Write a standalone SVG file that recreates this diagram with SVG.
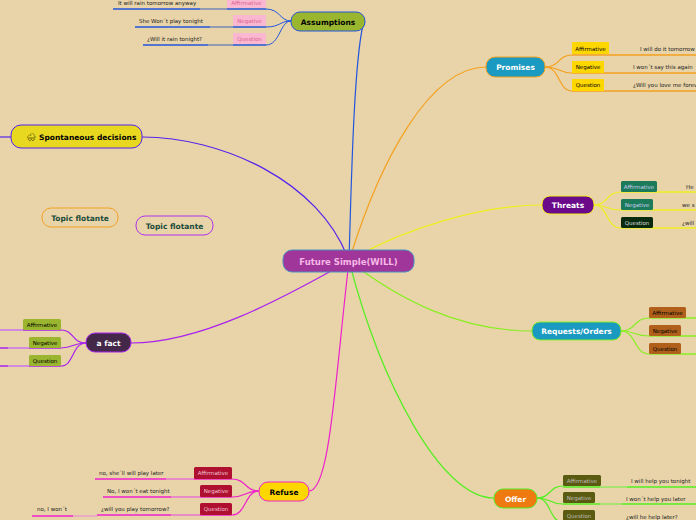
<svg xmlns="http://www.w3.org/2000/svg" width="696" height="520" viewBox="0 0 696 520">
<style>
text{font-family:"DejaVu Sans","Liberation Sans",sans-serif;font-size:6px}
.n{font-size:7.5px;font-weight:bold;text-anchor:middle}
.s{font-size:5.5px;text-anchor:middle}
.e{font-size:5.5px;fill:#222}
path{fill:none}
</style>
<rect width="696" height="520" fill="#e8d4a8"/>
<g id="connectors" stroke-width="1.2">
<path d="M349 261 C352 150 355 60 363 25" stroke="#2255dd"/>
<path d="M349 261 C320 180 220 137 142 137" stroke="#5522ee"/>
<path d="M349 261 C380 160 430 67 486 67" stroke="#f5a020"/>
<path d="M349 261 C400 230 480 205 542 205" stroke="#f0f020"/>
<path d="M349 261 C400 300 460 331 532 331" stroke="#88ee22"/>
<path d="M349 261 C380 380 440 498 494 498" stroke="#55ee22"/>
<path d="M349 261 C335 380 330 491 309 491" stroke="#ee22cc"/>
<path d="M349 261 C280 300 200 343 131 343" stroke="#aa22ee"/>
<path d="M0 137 H11" stroke="#5522ee"/>
<g stroke="#2255dd" stroke-width="1"><path d="M291 21 C280 21 280 9 266 9"/><path d="M291 21 C280 21 280 27 266 27"/><path d="M291 21 C280 21 280 45 266 45"/></g>
<g stroke-width="1.5"><path d="M113 9 H266" stroke="#2255dd"/><path d="M200 9 H227" stroke="#aaa"/><path d="M135 27 H266" stroke="#2255dd"/><path d="M210 27 H233" stroke="#aaa"/><path d="M143 45 H266" stroke="#2255dd"/><path d="M208 45 H233" stroke="#aaa"/></g>
<g stroke="#f5a020"><path d="M545 67 C560 67 558 55 572 55"/><path d="M545 67 C560 67 558 73 572 73"/><path d="M545 67 C560 67 558 91 572 91"/><path d="M572 55 H696 M572 73 H696 M572 91 H696" stroke-width="1.5"/></g>
<g stroke="#f0f020"><path d="M594 205 C608 205 606 192 621 192"/><path d="M594 205 C608 205 606 210 621 210"/><path d="M594 205 C608 205 606 228 621 228"/><path d="M621 192 H696 M621 210 H696 M621 228 H696" stroke-width="1.5"/></g>
<g stroke="#88ee22"><path d="M621 331 C636 331 634 318 649 318"/><path d="M621 331 C636 331 634 336 649 336"/><path d="M621 331 C636 331 634 354 649 354"/><path d="M649 318 H696 M649 336 H696 M649 354 H696" stroke-width="1.5"/></g>
<g stroke="#55ee22"><path d="M537 498 C551 498 549 486 563 486"/><path d="M537 498 C551 498 549 504 563 504"/><path d="M537 498 C551 498 549 522 563 522"/><path d="M563 487 H696 M563 504 H696" stroke-width="1.5"/><path d="M600 487 H627 M600 504 H622" stroke="#b8e080" stroke-width="1.5"/></g>
<g stroke="#ee22cc"><path d="M259 491 C245 491 246 479 232 479"/><path d="M259 491 C245 491 246 497 232 497"/><path d="M259 491 C245 491 246 515 232 515"/><path d="M95 479 H232 M103 497 H232 M97 515 H232 M32 516 H73" stroke-width="1.5"/><path d="M166 479 H194 M171 497 H200 M171 515 H200 M73 516 H97" stroke="#e8a0c8" stroke-width="1.5"/></g>
<g stroke="#aa22ee"><path d="M86 343 C72 343 74 330 61 330"/><path d="M86 343 C72 343 74 348 61 348"/><path d="M86 343 C72 343 74 366 61 366"/><path d="M0 330 H61 M0 348 H61 M0 366 H61" stroke-width="1.5"/><path d="M0 330 H23 M8 348 H29 M8 366 H29" stroke="#d8a0e0" stroke-width="1.5"/></g>
</g>
<g id="center"><rect x="283" y="250" width="131" height="22" rx="9" fill="#a0359a" stroke="#4a90c0"/><text x="348.5" y="264.5" class="n" fill="#f6b8e6" style="font-size:8.5px">Future Simple(WILL)</text></g>
<g id="assumptions"><rect x="291" y="12" width="74" height="19" rx="9" fill="#9ab52e" stroke="#2255dd"/><text x="328" y="24.5" class="n">Assumptions</text>
<rect x="227" y="-2" width="39" height="10" fill="#f9b8d0"/><text x="246.5" y="5" class="s" fill="#e06090">Affirmative</text>
<rect x="233" y="15" width="33" height="11" fill="#f9b8d0"/><text x="249.5" y="22.5" class="s" fill="#e06090">Negative</text>
<rect x="233" y="33" width="33" height="11" fill="#f9b8d0"/><text x="249.5" y="40.5" class="s" fill="#e06090">Question</text>
<text x="118" y="5" class="e">It will rain tomorrow anyway</text><text x="139" y="23" class="e">She Won´t play tonight</text><text x="147" y="41" class="e">¿Will it rain tonight?</text></g>
<g id="spontaneous"><rect x="11" y="125" width="131" height="23" rx="10" fill="#e8d820" stroke="#5522ee"/><text x="26" y="140" style="font-size:8px">🌨</text><text x="39" y="139.5" class="n" style="text-anchor:start">Spontaneous decisions</text></g>
<g id="topic1"><rect x="42" y="208" width="76" height="19" rx="9" fill="none" stroke="#f5a020"/><text x="80" y="220.5" class="n" fill="#1a4a3a">Topic flotante</text></g>
<g id="topic2"><rect x="136" y="216" width="77" height="19" rx="9" fill="none" stroke="#b030ee"/><text x="174.5" y="228.5" class="n" fill="#1a4a3a">Topic flotante</text></g>
<g id="promises"><rect x="486" y="57" width="59" height="20" rx="9" fill="#1a9ac0" stroke="#f5a020"/><text x="515.5" y="70" class="n" fill="#fff">Promises</text>
<rect x="572" y="42" width="37" height="12" fill="#ffd700"/><text x="590.5" y="50.5" class="s">Affirmative</text>
<rect x="572" y="61" width="32" height="12" fill="#ffd700"/><text x="588" y="69" class="s">Negative</text>
<rect x="572" y="79" width="32" height="12" fill="#ffd700"/><text x="588" y="87" class="s">Question</text>
<text x="640" y="51" class="e">I will do it tomorrow</text><text x="633" y="69" class="e">I won´t say this again</text><text x="633" y="87" class="e">¿Will you love me forever?</text></g>
<g id="threats"><rect x="542" y="196" width="52" height="18" rx="8" fill="#6a0a8a" stroke="#f0f020"/><text x="568" y="208" class="n" fill="#fff">Threats</text>
<rect x="621" y="181" width="36" height="11" rx="1.5" fill="#1a7a5a"/><text x="639" y="188.5" class="s" fill="#cce">Affirmative</text>
<rect x="621" y="199" width="32" height="11" rx="1.5" fill="#1a7a5a"/><text x="637" y="206.5" class="s" fill="#cce">Negative</text>
<rect x="621" y="217" width="32" height="11" rx="1.5" fill="#0a2a10"/><text x="637" y="224.5" class="s" fill="#ddd">Question</text>
<text x="686" y="189" class="e">He</text><text x="682" y="207" class="e">we s</text><text x="682" y="225" class="e">¿will</text></g>
<g id="requests"><rect x="532" y="322" width="89" height="18" rx="8" fill="#1a9ac0" stroke="#88ee22"/><text x="576.5" y="334" class="n" fill="#fff">Requests/Orders</text>
<rect x="649" y="307" width="37" height="11" rx="1.5" fill="#b0601a"/><text x="667.5" y="314.5" class="s">Affirmative</text>
<rect x="649" y="325" width="32" height="11" rx="1.5" fill="#b0601a"/><text x="665" y="332.5" class="s">Negative</text>
<rect x="649" y="343" width="32" height="11" rx="1.5" fill="#b0601a"/><text x="665" y="350.5" class="s">Question</text></g>
<g id="offer"><rect x="494" y="489" width="43" height="19" rx="9" fill="#ee7a10" stroke="#55ee22"/><text x="515.5" y="501.5" class="n" fill="#fff">Offer</text>
<rect x="563" y="475" width="38" height="11" rx="1.5" fill="#5a5a10"/><text x="582" y="482.5" class="s" fill="#bbb">Affirmative</text>
<rect x="563" y="492" width="32" height="11" rx="1.5" fill="#5a5a10"/><text x="579" y="499.5" class="s" fill="#bbb">Negative</text>
<rect x="563" y="510" width="32" height="11" rx="1.5" fill="#5a5a10"/><text x="579" y="517.5" class="s" fill="#bbb">Question</text>
<text x="631" y="483" class="e">I will help you tonight</text><text x="626" y="501" class="e">I won´t help you later</text><text x="626" y="519" class="e">¿will he help later?</text></g>
<g id="refuse"><rect x="259" y="482" width="50" height="19" rx="9" fill="#ffd700" stroke="#ee22cc"/><text x="284" y="494.5" class="n">Refuse</text>
<rect x="194" y="467" width="38" height="12" rx="1.5" fill="#b01030"/><text x="213" y="475" class="s" fill="#f0c0d0">Affirmative</text>
<rect x="200" y="485" width="32" height="12" rx="1.5" fill="#b01030"/><text x="216" y="493" class="s" fill="#f0c0d0">Negative</text>
<rect x="200" y="503" width="32" height="12" rx="1.5" fill="#b01030"/><text x="216" y="511" class="s" fill="#f0c0d0">Question</text>
<text x="99" y="475" class="e">no, she´ll will play later</text><text x="107" y="493" class="e">No, I won´t eat tonight</text><text x="101" y="511" class="e">¿will you play tomorrow?</text><text x="37" y="511" class="e">no, I won´t</text></g>
<g id="fact"><rect x="86" y="333" width="45" height="19" rx="9" fill="#44284a" stroke="#aa22ee"/><text x="108.5" y="345.5" class="n" fill="#fff">a fact</text>
<rect x="23" y="319" width="38" height="11" rx="1.5" fill="#9ab52e"/><text x="42" y="326.5" class="s">Affirmative</text>
<rect x="29" y="337" width="32" height="11" rx="1.5" fill="#9ab52e"/><text x="45" y="344.5" class="s">Negative</text>
<rect x="29" y="355" width="32" height="11" rx="1.5" fill="#9ab52e"/><text x="45" y="362.5" class="s">Question</text></g>
</svg>
